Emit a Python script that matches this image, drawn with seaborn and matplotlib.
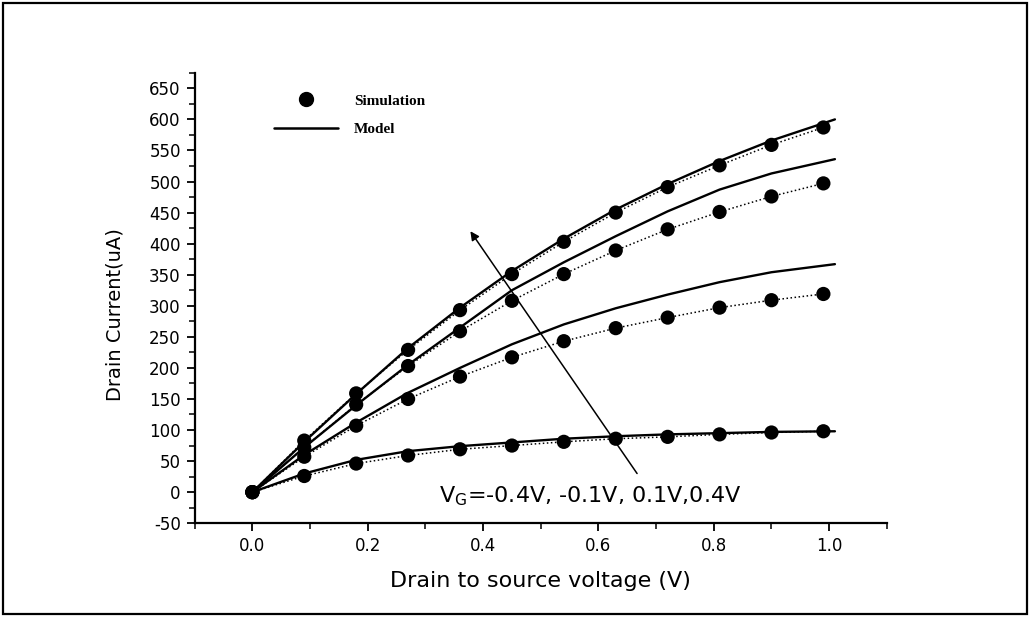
import pandas as pd
import seaborn as sns
import matplotlib.pyplot as plt
import matplotlib.ticker as ticker
from matplotlib.lines import Line2D
from matplotlib.patches import Rectangle

# ================= data =================
VG_LABELS = ["-0.4V", "-0.1V", "0.1V", "0.4V"]

# simulation points (drain current in uA)
vds_sim = [0.0, 0.09, 0.18, 0.27, 0.36, 0.45, 0.54, 0.63, 0.72, 0.81, 0.90, 0.99]
sim_m04 = [0, 26, 46, 59, 69, 75, 81, 86, 89, 93, 96, 98]
sim_m01 = [0, 57, 107, 150, 186, 217, 243, 264, 281, 297, 309, 319]
sim_p01 = [0, 72, 141, 203, 259, 308, 351, 389, 423, 451, 476, 497]
sim_p04 = [0, 83, 159, 229, 293, 351, 403, 450, 491, 526, 559, 587]

# model curves
vds_model = [0.0, 0.09, 0.18, 0.27, 0.36, 0.45, 0.54, 0.63, 0.72, 0.81, 0.90, 1.01]
model_m04 = [0, 30, 52, 66, 74, 80, 86, 90, 93, 95, 97, 98]
model_m01 = [0, 60, 112, 160, 200, 238, 270, 296, 318, 338, 354, 367]
model_p01 = [0, 72, 140, 205, 265, 325, 370, 412, 452, 487, 513, 536]
model_p04 = [0, 81, 158, 232, 297, 356, 408, 455, 496, 533, 566, 600]
# =======================================

sim_df = pd.concat([
    pd.DataFrame({"Vds": vds_sim, "Id": vals, "VG": vg})
    for vg, vals in zip(VG_LABELS, [sim_m04, sim_m01, sim_p01, sim_p04])
], ignore_index=True)
model_df = pd.concat([
    pd.DataFrame({"Vds": vds_model, "Id": vals, "VG": vg})
    for vg, vals in zip(VG_LABELS, [model_m04, model_m01, model_p01, model_p04])
], ignore_index=True)

sns.set_theme(style="ticks")
plt.rcParams['font.family'] = ['DejaVu Sans']
plt.rcParams['mathtext.fontset'] = 'dejavusans'
plt.rcParams['axes.unicode_minus'] = False
plt.rcParams['text.color'] = 'black'
plt.rcParams['axes.labelcolor'] = 'black'
plt.rcParams['xtick.color'] = 'black'
plt.rcParams['ytick.color'] = 'black'

fig = plt.figure(figsize=(10.3, 6.17), dpi=100)
ax = fig.add_axes([0.189, 0.152, 0.672, 0.730])

black4 = ['black'] * 4
# dotted lines joining simulation points
sns.lineplot(data=sim_df, x="Vds", y="Id", hue="VG", palette=black4,
             linestyle=':', linewidth=1.1, legend=False, ax=ax, sort=False)
# model curves
sns.lineplot(data=model_df, x="Vds", y="Id", hue="VG", palette=black4,
             linewidth=1.7, legend=False, ax=ax, sort=False)
# simulation markers
sns.scatterplot(data=sim_df, x="Vds", y="Id", hue="VG", palette=black4,
                s=105, edgecolor='black', linewidth=0, legend=False, ax=ax, zorder=3)

ax.set_xlim(-0.1, 1.1)
ax.set_ylim(-50, 675)
ax.xaxis.set_minor_locator(ticker.MultipleLocator(0.1))
ax.yaxis.set_minor_locator(ticker.MultipleLocator(25))
ax.set_xticks([0.0, 0.2, 0.4, 0.6, 0.8, 1.0])
ax.set_yticks(range(-50, 651, 50))
ax.xaxis.set_major_formatter(ticker.FormatStrFormatter('%.1f'))

ax.tick_params(axis='both', which='major', direction='out', length=6, width=1.3,
               labelsize=12, pad=4, color='black', labelcolor='black')
ax.tick_params(axis='both', which='minor', direction='out', length=4, width=1.1,
               color='black')
for side in ['top', 'right']:
    ax.spines[side].set_visible(False)
for side in ['left', 'bottom']:
    ax.spines[side].set_linewidth(1.6)
    ax.spines[side].set_color('black')

ax.set_xlabel("Drain to source voltage (V)", fontsize=16, color='black')
ax.set_ylabel("Drain Current(uA)", fontsize=14, color='black')
ax.xaxis.set_label_coords(0.5, -0.105)
ax.yaxis.set_label_coords(-0.101, 0.464)

# arrow showing increasing gate voltage
ax.annotate('', xy=(0.378, 420), xytext=(0.667, 30),
            arrowprops=dict(arrowstyle='-|>', color='black', lw=1.1,
                            mutation_scale=13, shrinkA=0, shrinkB=0))
ax.text(0.323, -16, r"V$_\mathregular{G}$=-0.4V, -0.1V, 0.1V,0.4V",
        fontsize=16, ha='left', va='baseline', color='black')

# legend
handles = [
    Line2D([], [], linestyle='none', marker='o', markersize=10, color='black'),
    Line2D([], [], linestyle='-', linewidth=1.8, color='black'),
]
ax.legend(handles, ["Simulation", "Model"], loc='upper left',
          bbox_to_anchor=(0.115, 0.953), frameon=False, borderaxespad=0,
          borderpad=0, handlelength=4.2, handletextpad=1.0, labelspacing=0.95,
          prop={'family': 'Liberation Serif', 'weight': 'bold', 'size': 11})

# outer frame round the whole picture
fig.patches.append(Rectangle((0.003, 0.005), 0.994, 0.99, transform=fig.transFigure,
                             fill=False, edgecolor='black', linewidth=1.6))

fig.savefig("out.png", dpi=100)
